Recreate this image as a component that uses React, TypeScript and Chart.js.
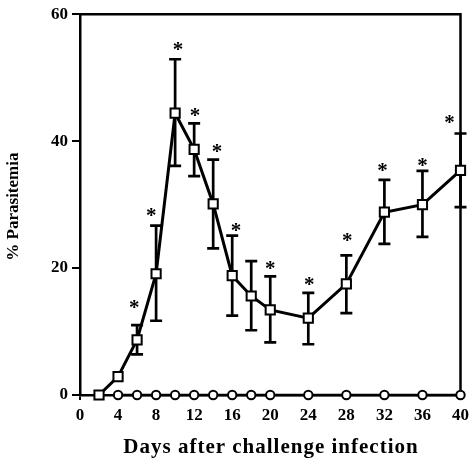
import React, { useEffect, useRef } from "react";
import { Chart, registerables } from "chart.js";

Chart.register(...registerables);

const days = [2, 4, 6, 8, 10, 12, 14, 16, 18, 20, 24, 28, 32, 36, 40];
const infectedMean = [0, 2.9, 8.7, 19.1, 44.4, 38.7, 30.1, 18.8, 15.6, 13.4, 12.1, 17.5, 28.8, 30.0, 35.4];
const errLow: (number | null)[] = [null, null, 6.4, 11.7, 36.1, 34.5, 23.1, 12.5, 10.2, 8.3, 8.0, 12.9, 23.8, 24.9, 29.6];
const errHigh: (number | null)[] = [null, null, 11.0, 26.7, 52.9, 42.8, 37.1, 25.1, 21.1, 18.7, 16.1, 22.0, 33.9, 35.3, 41.2];

const controlDays = [4, 6, 8, 10, 12, 14, 16, 18, 20, 24, 28, 32, 36, 40];
const controlValues = [0, 0, 0, 0, 0, 0, 0, 0, 0, 0, 0, 0, 0, 0];

const starX = [5.7, 7.5, 10.3, 12.1, 14.4, 16.4, 20.0, 24.1, 28.1, 31.8, 36.0, 38.85];
const starY = [14.5, 29.0, 55.1, 44.7, 39.1, 26.6, 20.6, 18.1, 25.0, 36.0, 36.9, 43.6];

const xTicks = [0, 4, 8, 12, 16, 20, 24, 28, 32, 36, 40];
const yTicks = [0, 20, 40, 60];

const xTitle = "Days after challenge infection";
const yTitle = "% Parasitemia";

const FONT = "'Liberation Serif', 'DejaVu Serif', serif";

const overlayPlugin = {
  id: "overlay",
  beforeDatasetsDraw(chart: any) {
    const ctx = chart.ctx;
    const xs = chart.scales.x;
    const ys = chart.scales.y;
    const area = chart.chartArea;
    ctx.save();
    ctx.strokeStyle = "#000";
    // frame top & right
    ctx.lineWidth = 2.5;
    ctx.beginPath();
    ctx.moveTo(area.left, area.top);
    ctx.lineTo(area.right, area.top);
    ctx.lineTo(area.right, area.bottom);
    ctx.stroke();
    // error bars
    ctx.lineWidth = 2.7;
    const cap = 6;
    days.forEach((d, i) => {
      const lo = errLow[i];
      const hi = errHigh[i];
      if (lo == null || hi == null) return;
      const x = xs.getPixelForValue(d);
      const y1 = ys.getPixelForValue(lo);
      const y2 = ys.getPixelForValue(hi);
      ctx.beginPath();
      ctx.moveTo(x, y1);
      ctx.lineTo(x, y2);
      ctx.moveTo(x - cap, y1);
      ctx.lineTo(x + cap, y1);
      ctx.moveTo(x - cap, y2);
      ctx.lineTo(x + cap, y2);
      ctx.stroke();
    });
    ctx.restore();
  },
  afterDraw(chart: any) {
    const ctx = chart.ctx;
    const xs = chart.scales.x;
    const ys = chart.scales.y;
    const area = chart.chartArea;
    ctx.save();
    ctx.fillStyle = "#000";
    // asterisks
    const size = 21;
    ctx.font = `bold ${size}px ${FONT}`;
    ctx.textAlign = "center";
    ctx.textBaseline = "alphabetic";
    starX.forEach((sx, i) => {
      const x = xs.getPixelForValue(sx);
      const y = ys.getPixelForValue(starY[i]);
      ctx.fillText("*", x, y + 0.52 * size);
    });
    // x title
    ctx.font = `bold 21px ${FONT}`;
    (ctx as any).letterSpacing = "1px";
    ctx.textBaseline = "middle";
    ctx.fillText(xTitle, 271, 448);
    // y title
    (ctx as any).letterSpacing = "0px";
    ctx.font = `bold 17px ${FONT}`;
    ctx.translate(14, (area.top + area.bottom) / 2 + 2);
    ctx.rotate(-Math.PI / 2);
    ctx.fillText(yTitle, 0, 0);
    ctx.restore();
  },
};

export default function App() {
  const ref = useRef<HTMLCanvasElement | null>(null);
  useEffect(() => {
    if (!ref.current) return;
    const chart = new Chart(ref.current, {
      type: "scatter",
      data: {
        datasets: [
          {
            label: "infected",
            data: days.map((d, i) => ({ x: d, y: infectedMean[i] })),
            showLine: true,
            borderColor: "#000",
            borderWidth: 3,
            pointStyle: "rect",
            pointRadius: 6.5,
            pointBorderWidth: 2,
            pointBackgroundColor: "#fff",
            pointBorderColor: "#000",
            clip: false as any,
          },
          {
            label: "control",
            data: controlDays.map((d, i) => ({ x: d, y: controlValues[i] })),
            showLine: true,
            borderColor: "#000",
            borderWidth: 2.5,
            pointStyle: "circle",
            pointRadius: 4.2,
            pointBorderWidth: 2,
            pointBackgroundColor: "#fff",
            pointBorderColor: "#000",
            clip: false as any,
          },
        ],
      },
      options: {
        responsive: false,
        animation: false,
        events: [],
        layout: { padding: { top: 14, right: 12, left: 0, bottom: 0 } },
        plugins: { legend: { display: false }, tooltip: { enabled: false }, title: { display: false } },
        scales: {
          x: {
            type: "linear",
            min: 0,
            max: 40,
            afterFit: (s: any) => { s.height = 70; },
            afterBuildTicks: (s: any) => { s.ticks = xTicks.map((v) => ({ value: v })); },
            border: { display: true, color: "#000", width: 2.5 },
            grid: { drawOnChartArea: false, drawTicks: true, tickLength: 5, color: "#000", lineWidth: 2 },
            ticks: { color: "#000", padding: 5, font: { family: FONT, size: 17, weight: "bold" }, maxRotation: 0, autoSkip: false },
          },
          y: {
            type: "linear",
            min: 0,
            max: 60,
            afterFit: (s: any) => { s.width = 80; },
            afterBuildTicks: (s: any) => { s.ticks = yTicks.map((v) => ({ value: v })); },
            border: { display: true, color: "#000", width: 2.5 },
            grid: { drawOnChartArea: false, drawTicks: true, tickLength: 8, color: "#000", lineWidth: 2 },
            ticks: { color: "#000", padding: 4, font: { family: FONT, size: 17, weight: "bold" }, autoSkip: false },
          },
        },
      },
      plugins: [overlayPlugin],
    });
    return () => chart.destroy();
  }, []);
  return (
    <div style={{ position: "fixed", left: 0, top: 0, width: 474, height: 465, background: "#fff" }}>
      <canvas ref={ref} width={474} height={465} style={{ width: 474, height: 465 }} />
    </div>
  );
}
